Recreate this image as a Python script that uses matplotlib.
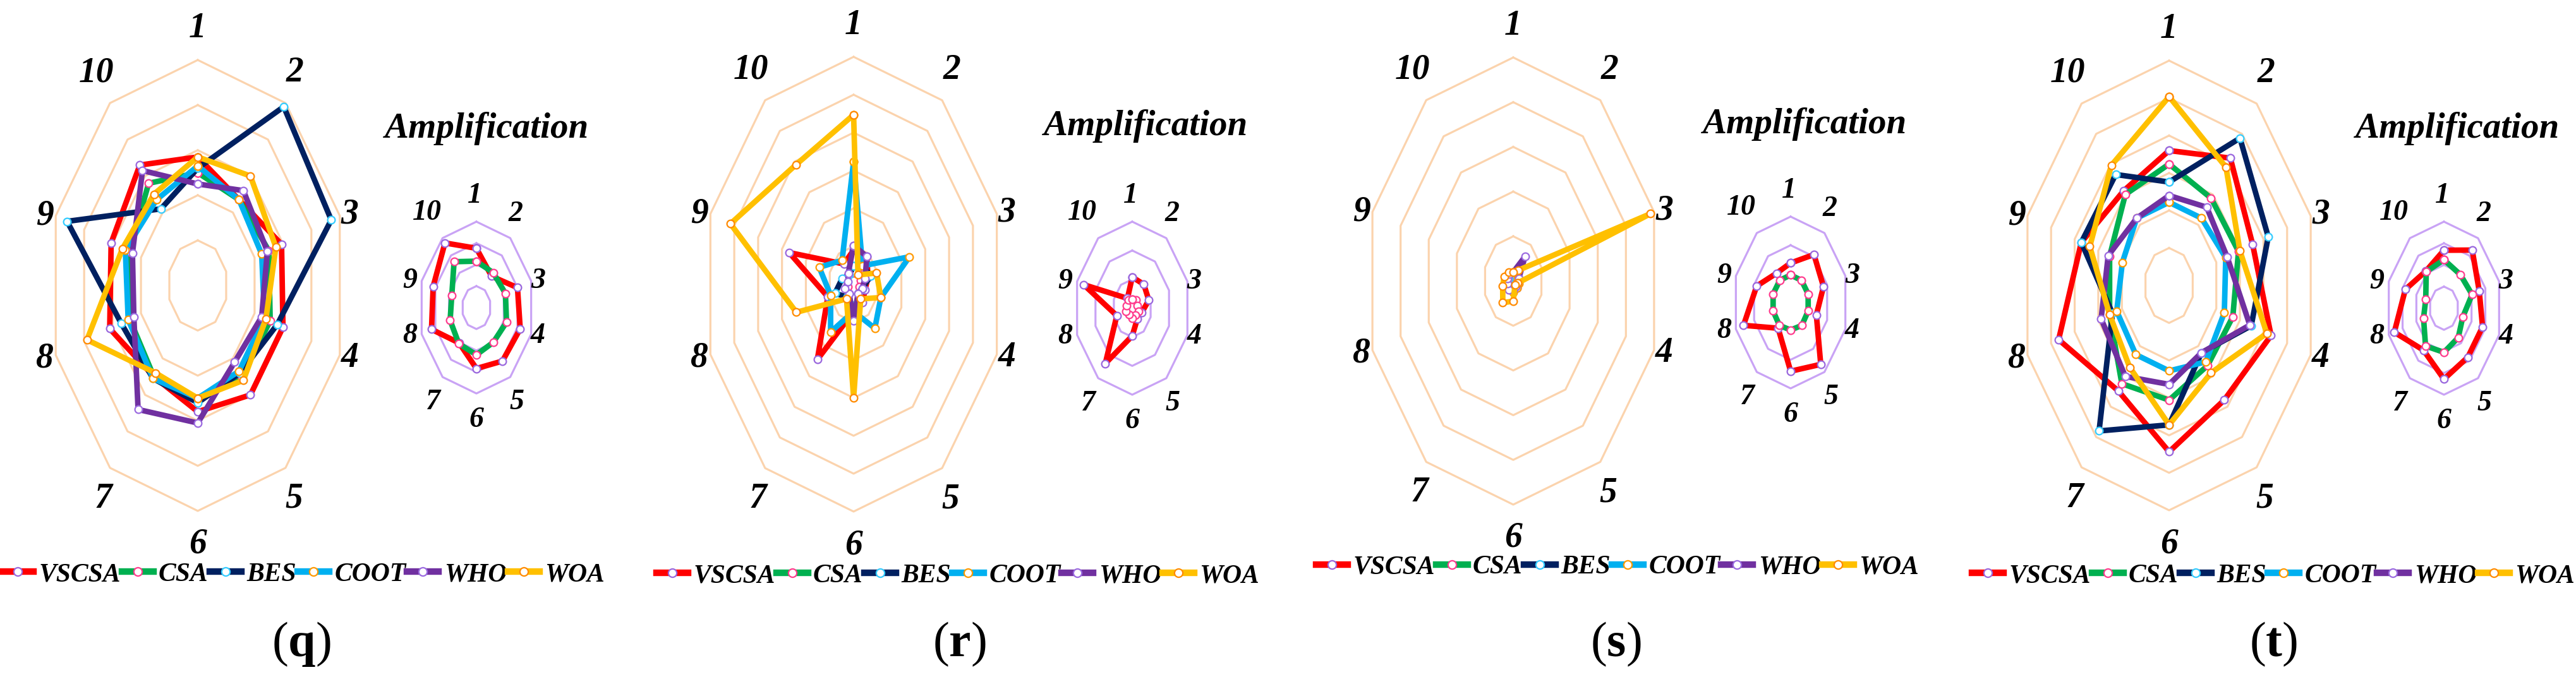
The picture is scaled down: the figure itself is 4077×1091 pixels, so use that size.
import numpy as np
import matplotlib
matplotlib.use("Agg")
import matplotlib.pyplot as plt
from matplotlib.lines import Line2D

W, H = 4077, 1091
plt.rcParams['font.family'] = ['Liberation Serif', 'DejaVu Serif']
plt.rcParams['mathtext.fontset'] = 'custom'
plt.rcParams['mathtext.rm'] = 'Liberation Serif'
plt.rcParams['mathtext.bf'] = 'Liberation Serif:bold'

algorithms = ['VSCSA', 'CSA', 'BES', 'COOT', 'WHO', 'WOA']
spokes = ['1', '2', '3', '4', '5', '6', '7', '8', '9', '10']
line_colors = ['#ff0000', '#00b050', '#002060', '#00b0f0', '#7030a0', '#ffc000']
marker_edges = ['#9966dd', '#ff3b8d', '#33ccff', '#ff9900', '#9b6ae0', '#ff8a00']

# values, as a fraction of the outer ring (spokes 1..10)
# (q)
q_VSCSA = [0.57, 0.47, 0.59, 0.60, 0.60, 0.56, 0.50, 0.62, 0.61, 0.66]
q_CSA = [0.50, 0.47, 0.50, 0.51, 0.50, 0.50, 0.50, 0.48, 0.48, 0.56]
q_BES = [0.52, 0.98, 0.94, 0.56, 0.48, 0.52, 0.51, 0.54, 0.92, 0.42]
q_COOT = [0.53, 0.47, 0.45, 0.47, 0.47, 0.50, 0.51, 0.49, 0.51, 0.47]
q_WHO = [0.45, 0.52, 0.49, 0.45, 0.42, 0.61, 0.68, 0.45, 0.46, 0.63]
q_WOA = [0.57, 0.60, 0.55, 0.48, 0.52, 0.50, 0.48, 0.78, 0.53, 0.50]
q_amp_VSCSA = [0.69, 0.45, 0.75, 0.80, 0.77, 0.71, 0.51, 0.82, 0.79, 0.93]
q_amp_CSA = [0.54, 0.50, 0.53, 0.55, 0.50, 0.55, 0.52, 0.48, 0.45, 0.66]

# (r)
r_VSCSA = [0.15, 0.15, 0.10, 0.08, 0.10, 0.12, 0.41, 0.18, 0.45, 0.11]
r_CSA = [0.05, 0.06, 0.05, 0.04, 0.05, 0.06, 0.05, 0.04, 0.05, 0.06]
r_BES = [0.08, 0.10, 0.12, 0.06, 0.05, 0.06, 0.07, 0.13, 0.08, 0.05]
r_COOT = [0.54, 0.10, 0.39, 0.19, 0.24, 0.12, 0.26, 0.16, 0.24, 0.13]
r_WHO = [0.17, 0.15, 0.08, 0.06, 0.05, 0.16, 0.05, 0.06, 0.04, 0.06]
r_WOA = [0.745, 0.05, 0.16, 0.19, 0.08, 0.50, 0.08, 0.40, 0.86, 0.65]
r_amp_VSCSA = [0.36, 0.34, 0.30, 0.17, 0.15, 0.32, 0.79, 0.28, 0.88, 0.14]
r_amp_CSA = [0.10, 0.12, 0.09, 0.11, 0.10, 0.12, 0.09, 0.11, 0.10, 0.12]

# (s)
s_VSCSA = [0.03, 0.04, 0.03, 0.03, 0.04, 0.04, 0.03, 0.04, 0.03, 0.03]
s_CSA = [0.02, 0.02, 0.02, 0.02, 0.02, 0.02, 0.02, 0.02, 0.02, 0.02]
s_BES = [0.03, 0.03, 0.04, 0.03, 0.03, 0.03, 0.04, 0.03, 0.03, 0.03]
s_COOT = [0.04, 0.04, 0.03, 0.04, 0.04, 0.05, 0.04, 0.04, 0.05, 0.04]
s_WHO = [0.04, 0.135, 0.04, 0.03, 0.03, 0.04, 0.05, 0.04, 0.04, 0.04]
s_WOA = [0.04, 0.06, 0.975, 0.03, 0.02, 0.09, 0.12, 0.075, 0.065, 0.05]
s_amp_VSCSA = [0.46, 0.69, 0.60, 0.47, 0.89, 0.80, 0.37, 0.86, 0.62, 0.42]
s_amp_CSA = [0.32, 0.32, 0.32, 0.32, 0.33, 0.32, 0.33, 0.32, 0.32, 0.32]

# (t)
t_VSCSA = [0.60, 0.70, 0.59, 0.72, 0.63, 0.74, 0.58, 0.78, 0.62, 0.52]
t_CSA = [0.54, 0.48, 0.49, 0.45, 0.44, 0.51, 0.54, 0.42, 0.42, 0.50]
t_BES = [0.46, 0.81, 0.70, 0.58, 0.37, 0.62, 0.80, 0.40, 0.62, 0.61]
t_COOT = [0.37, 0.37, 0.40, 0.39, 0.42, 0.38, 0.38, 0.37, 0.33, 0.37]
t_WHO = [0.40, 0.43, 0.41, 0.57, 0.37, 0.44, 0.50, 0.48, 0.43, 0.37]
t_WOA = [0.84, 0.65, 0.50, 0.69, 0.48, 0.62, 0.45, 0.42, 0.56, 0.66]
t_amp_VSCSA = [0.67, 0.83, 0.64, 0.70, 0.70, 0.82, 0.60, 0.90, 0.70, 0.53]
t_amp_CSA = [0.56, 0.48, 0.51, 0.34, 0.42, 0.51, 0.54, 0.37, 0.33, 0.52]

panel_letters = ['q', 'r', 's', 't']
main_rings = [5, 6, 5, 6]
amp_rings = [4, 3, 3, 4]

main_series = [
    [q_VSCSA, q_CSA, q_BES, q_COOT, q_WHO, q_WOA],
    [r_VSCSA, r_CSA, r_BES, r_COOT, r_WHO, r_WOA],
    [s_VSCSA, s_CSA, s_BES, s_COOT, s_WHO, s_WOA],
    [t_VSCSA, t_CSA, t_BES, t_COOT, t_WHO, t_WOA],
]
amp_series = [
    [q_amp_VSCSA, q_amp_CSA],
    [r_amp_VSCSA, r_amp_CSA],
    [s_amp_VSCSA, s_amp_CSA],
    [t_amp_VSCSA, t_amp_CSA],
]

# layout in pixels (x, y from top)
main_pos = [(313, 452, 357), (1351, 450, 360), (2395, 445, 354), (3433, 452, 356)]
amp_pos = [(754, 487, 136), (1792, 488, 137), (2834, 479, 136), (3868, 488, 137)]
amp_title_pos = [(771, 218), (1814, 214), (2857, 211), (3890, 218)]
legend_pos = [(480, 910), (1516, 912), (2560, 898), (3598, 912)]
letter_pos = [(477, 1020), (1518, 1020), (2557, 1020), (3598, 1020)]

main_offsets = [(0, 50), (15, 48), (16, 2), (16, -5), (13, -49),
                (0, -53), (-11, -49), (-17, -5), (-17, 0), (-22, 48)]
amp_offsets = [(-3, 41), (9, 38), (11, 0), (11, -3), (10, -40),
               (0, -42), (-16, -40), (-19, -3), (-19, 0), (-25, 40)]

theta = np.deg2rad(np.arange(10) * 36.0)

fig = plt.figure(figsize=(W / 100, H / 100), dpi=100)


def make_ax(cx, cy, ry, ratio, pad=1.6):
    rx = ry * ratio
    ax = fig.add_axes([(cx - pad * rx) / W, 1 - (cy + pad * ry) / H,
                       2 * pad * rx / W, 2 * pad * ry / H])
    ax.set_xlim(-pad, pad)
    ax.set_ylim(-pad, pad)
    ax.axis('off')
    return ax


def closed(v):
    v = np.asarray(v, dtype=float)
    return np.append(v, v[0])


def draw_radar(ax, series, idx, n_rings, ring_color, ring_lw, label_size, offsets):
    for i in range(1, n_rings + 1):
        r = i / n_rings
        ax.plot(closed(r * np.sin(theta)), closed(r * np.cos(theta)),
                color=ring_color, lw=ring_lw, zorder=1)
    for vals, k in zip(series, idx):
        v = np.asarray(vals)
        ax.plot(closed(v * np.sin(theta)), closed(v * np.cos(theta)),
                color=line_colors[k], lw=6.3, marker='o', ms=8.5,
                mfc='white', mec=marker_edges[k], mew=1.6, zorder=2 + k)
    for lab, t, off in zip(spokes, theta, offsets):
        ax.annotate(lab, (np.sin(t), np.cos(t)), xytext=off,
                    textcoords='offset pixels', ha='center', va='center',
                    fontsize=label_size, fontweight='bold', fontstyle='italic')


handles = [Line2D([], [], color=c, lw=7.5, marker='o', ms=9.5, mfc='white',
                  mec=e, mew=1.6) for c, e in zip(line_colors, marker_edges)]

for p in range(4):
    cx, cy, ry = main_pos[p]
    ax = make_ax(cx, cy, ry, 0.662)
    draw_radar(ax, main_series[p], range(6), main_rings[p], '#fbd3ad', 2.3, 40, main_offsets)

    cx, cy, ry = amp_pos[p]
    ax2 = make_ax(cx, cy, ry, 0.67, pad=1.8)
    draw_radar(ax2, amp_series[p], [0, 1], amp_rings[p], '#c9a3f5', 2.3, 33, amp_offsets)

    tx, ty = amp_title_pos[p]
    fig.text(tx / W, 1 - ty / H, 'Amplification', ha='center', va='baseline',
             fontsize=41, fontweight='bold', fontstyle='italic')

    lx, ly = legend_pos[p]
    fig.legend(handles, algorithms, loc='center', bbox_to_anchor=(lx / W, 1 - ly / H),
               ncol=6, frameon=False, handlelength=1.2, handletextpad=0.2,
               columnspacing=0.05, borderpad=0, borderaxespad=0,
               prop=dict(family=['Liberation Serif', 'DejaVu Serif'], weight='bold',
                         style='italic', size=30))

    px, py = letter_pos[p]
    fig.text(px / W, 1 - py / H, '($\\mathbf{' + panel_letters[p] + '}$)',
             ha='center', va='center', fontsize=56)

fig.savefig('out.png', dpi=100)
